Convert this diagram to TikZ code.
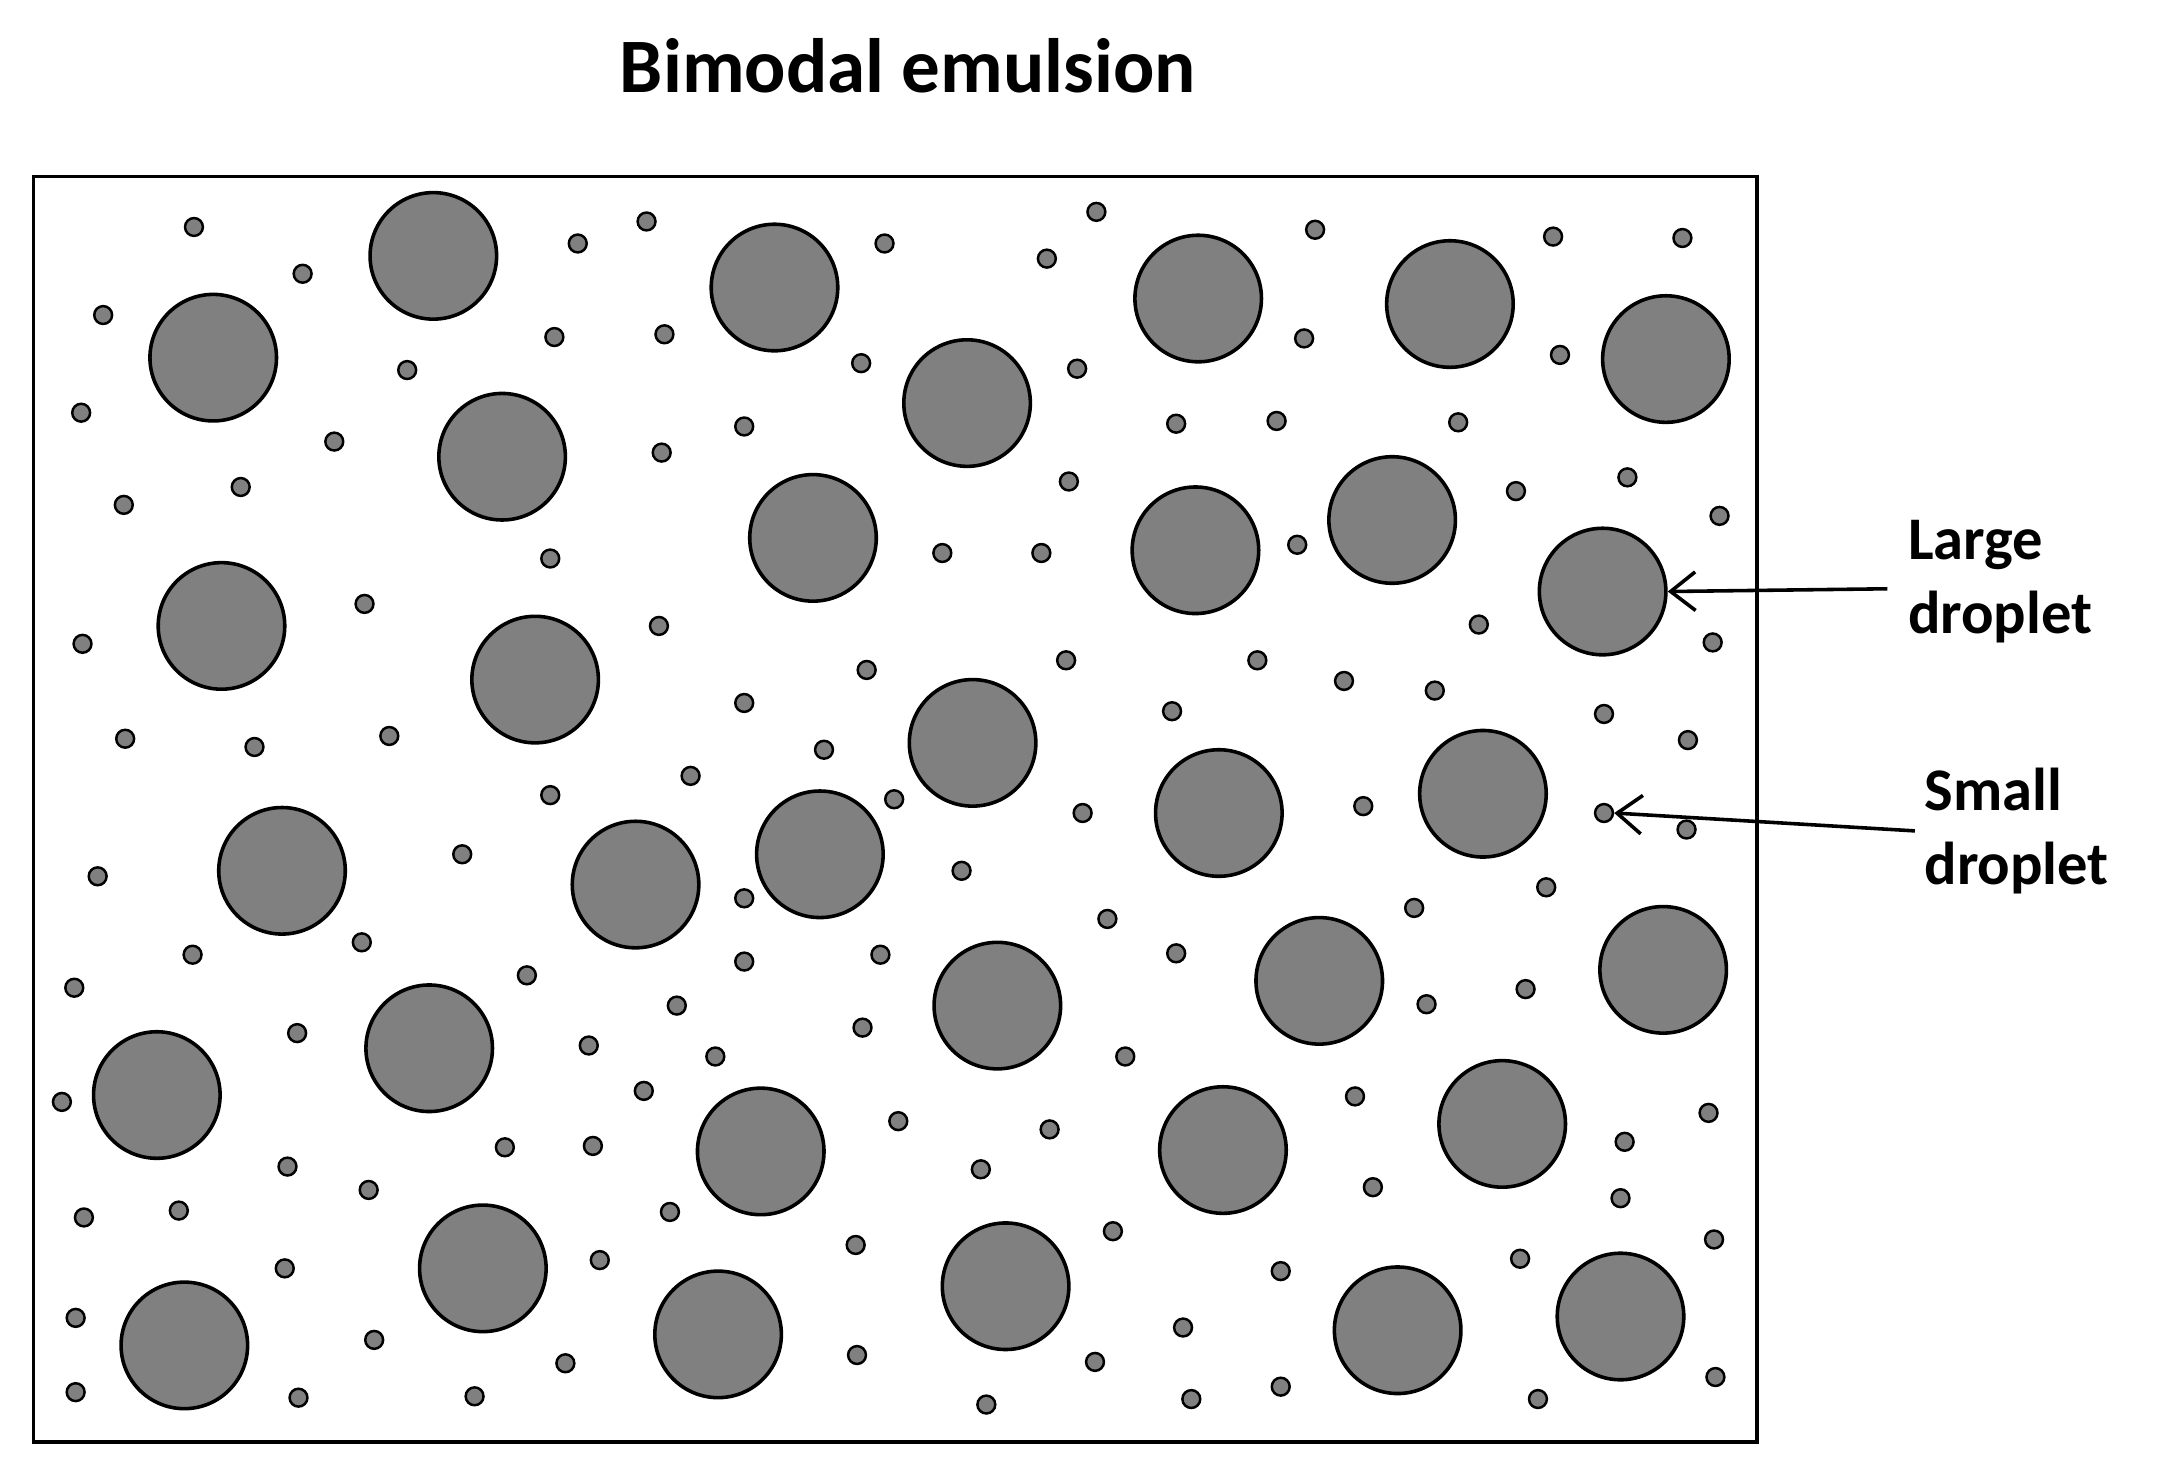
\documentclass[tikz,border=0pt]{standalone}
\usepackage{fontspec}
\setmainfont{Carlito}
\usetikzlibrary{arrows.meta}
\begin{document}
\begin{tikzpicture}[x=0.5pt,y=-0.5pt,
  big/.style={circle,draw=black,fill=gray,line width=1.3pt,minimum size=46pt,inner sep=0pt},
  small/.style={circle,draw=black,fill=gray,line width=0.9pt,minimum size=6.5pt,inner sep=0pt},
  lbl/.style={font=\bfseries\fontsize{22}{27}\selectfont,align=left,anchor=west},
  arr/.style={line width=1.3pt,-{Straight Barb[length=9pt,width=14pt,line width=1.3pt]}}]
\useasboundingbox (0,0) rectangle (1568,1066);
\node[font=\bfseries\fontsize{28}{34}\selectfont] (title) at (660,48) {Bimodal emulsion};
\node[draw=black,line width=1.3pt,minimum width=626.5pt,minimum height=460pt,inner sep=0pt,anchor=north west] (box) at (23,127) {};
\foreach \x/\y [count=\i] in {315/186,563/209,871/217,1054/221,1211/261,155/260,703/293,365/332,591/391,869/400,1012/378,1165/430,161/455,389/494,707/540,886/591,1078/577,205/633,462/643,596/621,1209/705,959/713,725/731,312/762,114/796,553/837,889/836,1092/817,351/922,522/970,731/935,134/978,1016/967,1178/957}
  \node[big] (L\i) at (\x,\y) {};
\foreach \x/\y [count=\i] in {141/165,220/199,75/229,59/300,90/367,175/354,243/321,296/269,403/245,420/177,470/161,483/243,481/329,541/310,626/264,643/177,761/188,797/154,783/268,777/350,685/402,757/402,855/308,928/306,948/246,956/167,1060/307,1129/172,1223/173,1134/258,1102/357,1183/347,1250/375,943/396,400/406,265/439,60/468,479/455,91/537,185/543,283/535,541/511,630/487,599/545,502/564,400/578,775/480,852/517,914/480,977/495,1043/502,1075/454,1245/467,1166/519,1227/538,1166/591,1226/603,991/586,787/591,650/581,699/633,541/653,336/621,71/637,140/694,263/685,54/718,216/751,383/709,428/760,492/731,541/699,640/694,627/747,520/768,468/793,431/833,367/834,268/865,209/848,130/880,61/885,45/801,805/668,855/693,1028/660,1124/645,1037/730,1109/719,818/768,653/815,763/821,713/850,985/797,998/863,1181/830,1242/809,1178/871,1246/901,487/881,436/916,622/905,809/895,931/924,1105/915,207/922,55/958,272/974,411/991,623/985,796/990,860/965,55/1012,217/1016,345/1015,717/1021,866/1017,931/1008,1118/1017,1247/1001}
  \node[small] (S\i) at (\x,\y) {};
\node[lbl] (tl) at (1380,423) {Large\\droplet};
\node[lbl] (ts) at (1392,604) {Small\\droplet};
\coordinate (al) at (1372,428);
\coordinate (as) at (1392,604);
\draw[arr] (al) -- (L12.east);
\draw[arr] (as) -- (S56.east);
\end{tikzpicture}
\end{document}
